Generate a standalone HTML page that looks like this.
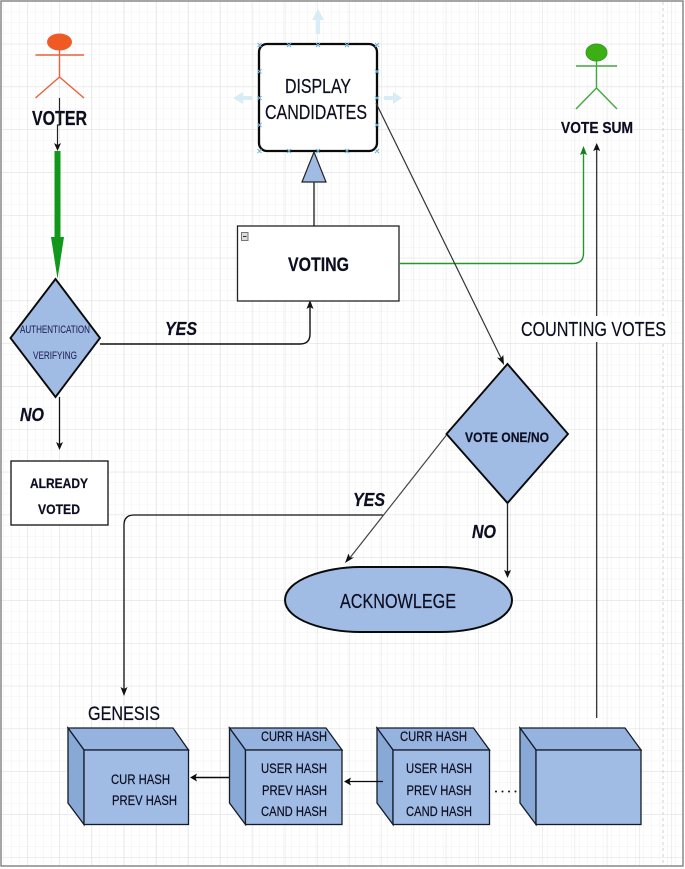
<!DOCTYPE html>
<html lang="en">
<head>
<meta charset="utf-8">
<title>Voting diagram</title>
<style>
html,body{margin:0;padding:0;background:#fff;width:685px;height:869px;overflow:hidden}
svg{display:block;filter:blur(.35px)}
text{font-family:"Liberation Sans",sans-serif;fill:#0d0d22;stroke:#0d0d22;stroke-width:.22px}
.b{font-weight:bold}
.bi{font-weight:bold;font-style:italic}
</style>
</head>
<body>
<svg xmlns="http://www.w3.org/2000/svg" width="685" height="869" viewBox="0 0 685 869">
<defs>
<pattern id="minor" x="3.5" y="1.5" width="8" height="10.7" patternUnits="userSpaceOnUse">
<path d="M8 0V10.7M0 10.7H8" fill="none" stroke="#f1f1f1" stroke-width="1"/>
</pattern>
<pattern id="major" x="-4.5" y="1.5" width="32.2" height="42.8" patternUnits="userSpaceOnUse">
<path d="M32.2 0V42.8M0 42.8H32.2" fill="none" stroke="#dedede" stroke-width="1"/>
</pattern>
</defs>

<rect width="685" height="869" fill="#fff"/>
<rect x="1" y="1" width="682" height="865" fill="url(#minor)"/>
<rect x="1" y="1" width="682" height="865" fill="url(#major)"/>
<line x1="663" y1="2" x2="663" y2="866" stroke="#cfcfcf" stroke-dasharray="3 3"/>
<rect x="1" y="1" width="682" height="865" fill="none" stroke="#808080" stroke-width="1.4"/>

<!-- voter -->
<g stroke="#e8603a" stroke-width="1.4" fill="none">
<path d="M35.5 55H84M59.5 50V77M59.5 77L35.5 98M59.5 77L84 98"/>
</g>
<ellipse cx="59.5" cy="42" rx="12" ry="8" fill="#f05a22" stroke="#e8603a"/>
<text x="32" y="125" font-size="20" class="b" textLength="55" lengthAdjust="spacingAndGlyphs">VOTER</text>
<path d="M59.5 98V125H57.5V145" fill="none" stroke="#222" stroke-width="1.2"/>
<path d="M57.5 151L54 143L57.5 145L61 143Z" fill="#111"/>
<rect x="54.5" y="151" width="6" height="86" fill="#11981a"/>
<path d="M51 237H64L57.5 279Z" fill="#11981a"/>

<!-- auth diamond -->
<path d="M55.5 279L100 338L55.5 397L10.5 338Z" fill="#a0bce4" stroke="#0a0a0a" stroke-width="1.9"/>
<text x="20" y="333" font-size="11" textLength="70" lengthAdjust="spacingAndGlyphs" style="fill:#26265a;stroke:#26265a;stroke-width:.1px">AUTHENTICATION</text>
<text x="33" y="359" font-size="11" textLength="44" lengthAdjust="spacingAndGlyphs" style="fill:#26265a;stroke:#26265a;stroke-width:.1px">VERIFYING</text>

<path d="M100 344H300Q310 344 310 334V306" fill="none" stroke="#111" stroke-width="1.4"/>
<path d="M310 300L306.5 309L310 307L313.5 309Z" fill="#111"/>
<text x="165" y="335" font-size="18" class="bi" textLength="32" lengthAdjust="spacingAndGlyphs">YES</text>
<text x="20" y="421" font-size="18" class="bi" textLength="24" lengthAdjust="spacingAndGlyphs">NO</text>
<path d="M59.5 397V445" fill="none" stroke="#111" stroke-width="1.3"/>
<path d="M59.5 450L56 442L59.5 444L63 442Z" fill="#111"/>

<rect x="11" y="461" width="97" height="64" fill="#fff" stroke="#111" stroke-width="1.3"/>
<text x="30" y="488" font-size="14" class="b" textLength="58" lengthAdjust="spacingAndGlyphs">ALREADY</text>
<text x="38" y="514" font-size="14" class="b" textLength="42" lengthAdjust="spacingAndGlyphs">VOTED</text>

<!-- to genesis -->
<path d="M383 515H134Q124 515 124 525V690" fill="none" stroke="#111" stroke-width="1.3"/>
<path d="M124 696L120.5 687L124 689L127.5 687Z" fill="#111"/>

<!-- display candidates -->
<g fill="#d8ecf6">
<path d="M316 34V20H312L318 9L324 20H320V34Z"/>
<path d="M252 96H243V92L233 98L243 104V100H252Z"/>
<path d="M384 96H393V92L402 98L393 104V100H384Z"/>
</g>
<rect x="259" y="44" width="118" height="107" rx="8" fill="#fff" stroke="#0a0a0a" stroke-width="2.3"/>
<g stroke="#6ab0d8" stroke-width="1" fill="none">
<path d="M257.5 43L261.5 47M261.5 43L257.5 47M287 43L291 47M291 43L287 47M316 43L320 47M320 43L316 47M345 43L349 47M349 43L345 47M375 43L379 47M379 43L375 47"/>
<path d="M257.5 149L261.5 153M261.5 149L257.5 153M287 149L291 153M291 149L287 153M316 149L320 153M320 149L316 153M345 149L349 153M349 149L345 153M375 149L379 153M379 149L375 153"/>
<path d="M257.5 69.5L261.5 73.5M261.5 69.5L257.5 73.5M257.5 96L261.5 100M261.5 96L257.5 100M257.5 123L261.5 127M261.5 123L257.5 127"/>
<path d="M375 69.5L379 73.5M379 69.5L375 73.5M375 96L379 100M379 96L375 100M375 123L379 127M379 123L375 127"/>
</g>
<text x="285" y="93" font-size="20" textLength="66" lengthAdjust="spacingAndGlyphs">DISPLAY</text>
<text x="265" y="119" font-size="20" textLength="102" lengthAdjust="spacingAndGlyphs">CANDIDATES</text>

<path d="M314 152L326 182H302Z" fill="#a0bce4" stroke="#222" stroke-width="1.2"/>
<line x1="314" y1="182" x2="314" y2="226" stroke="#444" stroke-width="1.6"/>

<!-- voting -->
<rect x="237.5" y="226" width="161.5" height="75" fill="#fff" stroke="#222" stroke-width="1.3"/>
<rect x="241.5" y="232.5" width="6.5" height="8" fill="#ddd" stroke="#777" stroke-width="1"/>
<line x1="243" y1="236.5" x2="246.5" y2="236.5" stroke="#333" stroke-width="1"/>
<text x="288" y="271" font-size="19" class="b" textLength="61" lengthAdjust="spacingAndGlyphs">VOTING</text>

<path d="M399 263.5H573Q583.5 263.5 583.5 253V152" fill="none" stroke="#23962f" stroke-width="1.4"/>
<path d="M583.5 146L580 155L583.5 153.500L587 155Z" fill="#11801a"/>

<!-- vote sum -->
<g stroke="#3fa93f" stroke-width="1.4" fill="none">
<path d="M576 66H617M596.5 60V88M596.5 88L576 109M596.5 88L617 109"/>
</g>
<ellipse cx="596.5" cy="52.5" rx="10.5" ry="8.5" fill="#3cb012" stroke="#3a9a30"/>
<text x="561" y="133" font-size="16" class="b" textLength="72" lengthAdjust="spacingAndGlyphs">VOTE SUM</text>
<line x1="596.700" y1="148" x2="596.700" y2="718" stroke="#222" stroke-width="1.2"/>
<path d="M596.700 143L593.200 151L596.700 149.500L600.200 151Z" fill="#111"/>
<rect x="519" y="316" width="149" height="26" fill="#fff"/>
<text x="521" y="336" font-size="20" textLength="145" lengthAdjust="spacingAndGlyphs">COUNTING VOTES</text>

<!-- display to vote -->
<line x1="376" y1="103" x2="502" y2="360" stroke="#333" stroke-width="1.2"/>
<path d="M504 365L497 357.500L500.800 358.200L503.300 355Z" fill="#111"/>

<!-- vote diamond -->
<path d="M507.500 364L568 434L507.500 503L446.500 434Z" fill="#a0bce4" stroke="#0a0a0a" stroke-width="1.9"/>
<text x="465" y="442" font-size="14" class="b" textLength="84" lengthAdjust="spacingAndGlyphs">VOTE ONE/NO</text>

<line x1="446.500" y1="435" x2="349" y2="559" stroke="#444" stroke-width="1.2"/>
<path d="M345 563L348.500 553.500L350 557.500L354 557.500Z" fill="#111"/>
<text x="353" y="506" font-size="18" class="bi" textLength="32" lengthAdjust="spacingAndGlyphs">YES</text>
<text x="472" y="538" font-size="18" class="bi" textLength="24" lengthAdjust="spacingAndGlyphs">NO</text>
<line x1="507.500" y1="503" x2="507.500" y2="573" stroke="#222" stroke-width="1.3"/>
<path d="M507.500 578L504 570L507.500 571.500L511 570Z" fill="#111"/>

<!-- acknowledge -->
<path d="M285 600C285 580 325 567 360 567H440C482 567 512 582 512 600C512 618 482 632 440 632H360C325 632 285 620 285 600Z" fill="#a0bce4" stroke="#0a0a0a" stroke-width="2"/>
<text x="340" y="608" font-size="20" textLength="116" lengthAdjust="spacingAndGlyphs">ACKNOWLEGE</text>

<!-- blocks -->
<text x="88" y="720" font-size="19" textLength="72" lengthAdjust="spacingAndGlyphs">GENESIS</text>

<g stroke="#141c2a" stroke-width="1.3">
<path d="M68 728H173L188.500 750H84Z" fill="#96b3df"/>
<path d="M68 728L84 750V824.500L68 803Z" fill="#88a9d6"/>
<rect x="84" y="750" width="104.500" height="74.500" fill="#a0bce4"/>

<path d="M229.500 728H326L342 750H245.500Z" fill="#96b3df"/>
<path d="M229.500 728L245.500 750V824.500L229.500 803Z" fill="#88a9d6"/>
<rect x="245.500" y="750" width="96.500" height="74.500" fill="#a0bce4"/>

<path d="M377 728H473.500L489.500 750H393Z" fill="#96b3df"/>
<path d="M377 728L393 750V824.500L377 803Z" fill="#88a9d6"/>
<rect x="393" y="750" width="96.500" height="74.500" fill="#a0bce4"/>

<path d="M520 728H625L641 750H536Z" fill="#96b3df"/>
<path d="M520 728L536 750V824.500L520 803Z" fill="#88a9d6"/>
<rect x="536" y="750" width="105" height="74.500" fill="#a0bce4"/>
</g>

<text x="111" y="784" font-size="14" textLength="59" lengthAdjust="spacingAndGlyphs">CUR HASH</text>
<text x="112" y="805" font-size="14" textLength="65" lengthAdjust="spacingAndGlyphs">PREV HASH</text>

<text x="261" y="741" font-size="14" textLength="66" lengthAdjust="spacingAndGlyphs">CURR HASH</text>
<text x="261" y="773" font-size="14" textLength="66" lengthAdjust="spacingAndGlyphs">USER HASH</text>
<text x="262" y="795" font-size="14" textLength="65" lengthAdjust="spacingAndGlyphs">PREV HASH</text>
<text x="261" y="816" font-size="14" textLength="66" lengthAdjust="spacingAndGlyphs">CAND HASH</text>

<text x="400" y="741" font-size="14" textLength="67" lengthAdjust="spacingAndGlyphs">CURR HASH</text>
<text x="406" y="773" font-size="14" textLength="66" lengthAdjust="spacingAndGlyphs">USER HASH</text>
<text x="406.500" y="795" font-size="14" textLength="65" lengthAdjust="spacingAndGlyphs">PREV HASH</text>
<text x="406" y="816" font-size="14" textLength="66" lengthAdjust="spacingAndGlyphs">CAND HASH</text>

<line x1="229" y1="777.500" x2="194" y2="777.500" stroke="#0a0a0a" stroke-width="1.5"/>
<path d="M190 777.500L197 773.500L195.500 777.500L197 781.500Z" fill="#0a0a0a"/>
<line x1="383" y1="781.500" x2="349" y2="781.500" stroke="#0a0a0a" stroke-width="1.3"/>
<path d="M344 781.500L351 777.500L349.500 781.500L351 785.500Z" fill="#0a0a0a"/>
<g fill="#111">
<circle cx="496" cy="791.500" r="1"/><circle cx="502.500" cy="791.500" r="1"/><circle cx="509" cy="791.500" r="1"/><circle cx="515.500" cy="791.500" r="1"/>
</g>
</svg>
</body>
</html>
